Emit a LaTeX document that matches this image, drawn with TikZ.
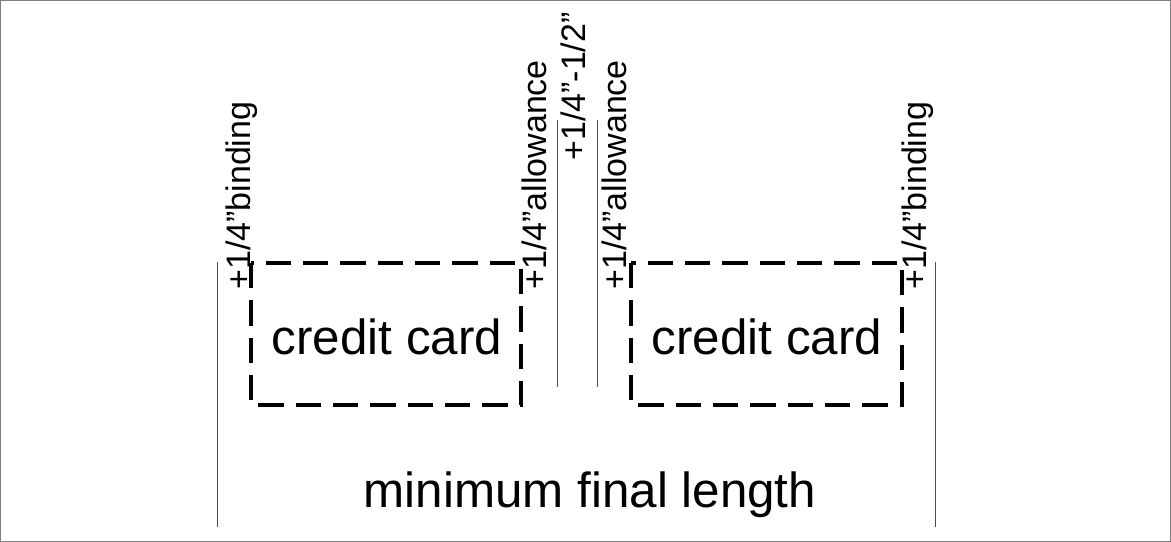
\documentclass[tikz,border=0pt]{standalone}
\usepackage{fontspec}
\setmainfont{Liberation Sans}
\begin{document}
\begin{tikzpicture}[x=0.75pt,y=-0.75pt,
  guide/.style={draw=black!70,line width=0.5pt},
  card/.style={draw=black,line width=2.6pt,dash pattern=on 19pt off 9pt},
  big/.style={font=\fontsize{37}{40}\selectfont,inner sep=0},
  lab/.style={font=\fontsize{25.5}{28}\selectfont,inner sep=0,rotate=90,anchor=base west}]
\useasboundingbox (0,0) rectangle (1171,542);
\draw[draw=black!50,line width=0.75pt] (0.5,0.5) rectangle (1170.5,541.5);
\coordinate (l1) at (217,262); \coordinate (l1b) at (217,527);
\coordinate (r1) at (935,262); \coordinate (r1b) at (935,527);
\coordinate (m1) at (557,120); \coordinate (m1b) at (557,387);
\coordinate (m2) at (597,120); \coordinate (m2b) at (597,387);
\draw[guide] (l1) -- (l1b);
\draw[guide] (r1) -- (r1b);
\draw[guide] (m1) -- (m1b);
\draw[guide] (m2) -- (m2b);
\draw[card] (251,263) rectangle (521,405);
\draw[card] (631,263) rectangle (902,405);
\node[big] (c1) at (387,337) {credit card};
\node[big] (c2) at (767,337) {credit card};
\node[big] (ml) at (590,495) {minimum final length};
\node[lab] (t1) at (250,290) {+1/4”binding};
\node[lab] (t2) at (546,290) {+1/4”allowance};
\node[lab] (t3) at (585,161) {+1/4”-1/2”};
\node[lab] (t4) at (626,290) {+1/4”allowance};
\node[lab] (t5) at (926,290) {+1/4”binding};
\end{tikzpicture}
\end{document}
